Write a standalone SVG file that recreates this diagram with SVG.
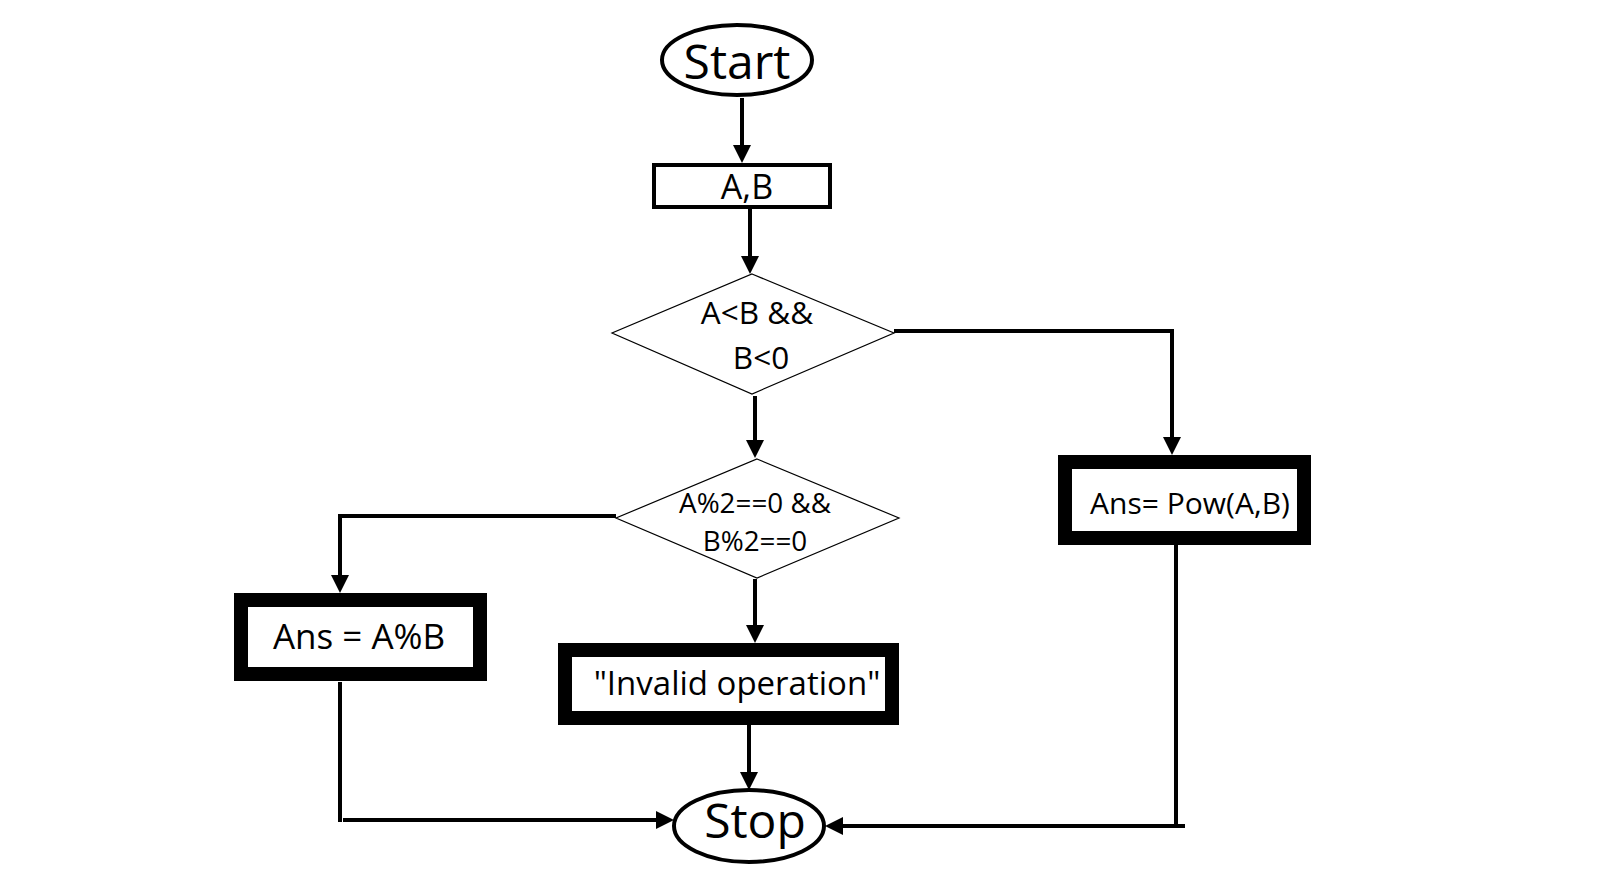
<svg xmlns="http://www.w3.org/2000/svg" width="1600" height="890" viewBox="0 0 1600 890">
<style>
.t{font-family:"Open Sans","Liberation Sans",sans-serif;fill:#000;text-anchor:middle}
.thin{fill:#fff;stroke:#000;stroke-width:1.2}
.box{fill:#fff;stroke:#000;stroke-width:14}
.ell{fill:#fff;stroke:#000;stroke-width:4}
.c{fill:none;stroke:#000;stroke-width:4}
</style>
<defs>
<marker id="ah" viewBox="0 0 18 18" refX="14" refY="9" markerWidth="18" markerHeight="18" markerUnits="userSpaceOnUse" orient="auto">
<path d="M0,0 L18,9 L0,18 z" fill="#000"/>
</marker>
</defs>
<rect width="1600" height="890" fill="#fff"/>
<g id="connectors">
<line class="c" x1="742" y1="98" x2="742" y2="159" marker-end="url(#ah)"/>
<line class="c" x1="750" y1="209" x2="750" y2="270" marker-end="url(#ah)"/>
<path class="c" d="M894 331 H1172 V451" marker-end="url(#ah)"/>
<line class="c" x1="755" y1="396" x2="755" y2="454" marker-end="url(#ah)"/>
<path class="c" d="M616 516 H340 V589" marker-end="url(#ah)"/>
<line class="c" x1="755" y1="579" x2="755" y2="639" marker-end="url(#ah)"/>
<path class="c" d="M340 682 V822"/>
<line class="c" x1="343" y1="820" x2="670" y2="820" marker-end="url(#ah)"/>
<line class="c" x1="749" y1="725" x2="749" y2="786" marker-end="url(#ah)"/>
<path class="c" d="M1176 545 V828"/>
<line class="c" x1="1185" y1="826" x2="829" y2="826" marker-end="url(#ah)"/>
</g>
<g id="start">
<ellipse class="ell" cx="737" cy="60" rx="75" ry="35"/>
<text class="t" x="737" y="79" font-size="48">Start</text>
</g>
<g id="input">
<rect x="654" y="165" width="176" height="42" fill="#fff" stroke="#000" stroke-width="4"/>
<text class="t" x="747" y="199" font-size="34">A,B</text>
</g>
<g id="decision1">
<polygon class="thin" points="752,274 894,333 752,394 612,333"/>
<text class="t" x="757" y="324" font-size="31.5">A&lt;B &amp;&amp;</text>
<text class="t" x="761" y="369" font-size="31.5">B&lt;0</text>
</g>
<g id="decision2">
<polygon class="thin" points="757,459 899,518 757,578 616,518"/>
<text class="t" x="755" y="513" font-size="27.8">A%2==0 &amp;&amp;</text>
<text class="t" x="755" y="551" font-size="27.8">B%2==0</text>
</g>
<g id="pow">
<rect class="box" x="1065" y="462" width="239" height="76"/>
<text class="t" x="1190" y="514" font-size="30">Ans= Pow(A,B)</text>
</g>
<g id="mod">
<rect class="box" x="241" y="600" width="239" height="74"/>
<text class="t" x="359" y="649" font-size="35">Ans = A%B</text>
</g>
<g id="invalid">
<rect class="box" x="565" y="650" width="327" height="68"/>
<text class="t" x="737" y="695" font-size="33">"Invalid operation"</text>
</g>
<g id="stop">
<ellipse class="ell" cx="749" cy="826" rx="75" ry="36"/>
<text class="t" x="755" y="838" font-size="48">Stop</text>
</g>
</svg>
